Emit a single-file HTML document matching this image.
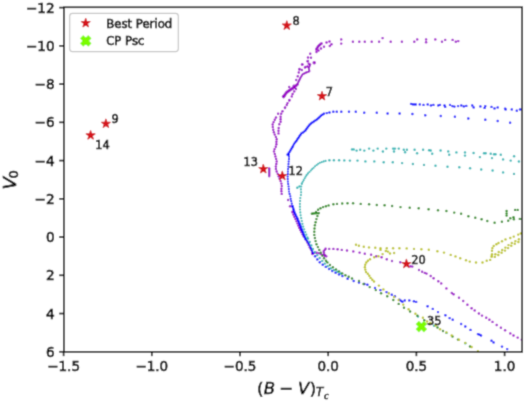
<!DOCTYPE html>
<html><head><meta charset="utf-8"><style>
html,body{margin:0;padding:0;background:#fff;width:525px;height:401px;overflow:hidden}
svg{display:block}
</style></head><body>
<svg width="525" height="401" viewBox="0 0 525 401" font-family="DejaVu Sans, 'Liberation Sans', sans-serif"><defs><filter id="bl" x="0" y="0" width="525" height="401" filterUnits="userSpaceOnUse"><feConvolveMatrix order="3" kernelMatrix="0.062 0.249 0.062 0.249 1 0.249 0.062 0.249 0.062" divisor="2.244" edgeMode="duplicate"/></filter></defs><style>text{stroke:#000}.t{stroke-width:0.65px}.a{stroke-width:0.55px}.l{stroke-width:0.6px}.x{stroke-width:0.6px}</style><g filter="url(#bl)"><rect width="525" height="401" fill="#fff"/><path d="M310.0,65.0 L308.8,68.1 L309.4,71.2 L306.2,72.5 L302.5,74.4 L300.6,77.5 L298.8,81.2 L297.3,84.5" fill="none" stroke="#9c00c8" stroke-width="2.0" stroke-linecap="round" stroke-linejoin="round"/>
<path d="M297.3,84.5 L294.0,87.5 L290.0,90.0 L286.5,92.5 L284.0,96.2" fill="none" stroke="#9c00c8" stroke-width="3.0" stroke-linecap="round" stroke-linejoin="round"/>
<path d="M269.2,168.3 L269.2,176.3" fill="none" stroke="#9c00c8" stroke-width="2.3" stroke-linecap="round" stroke-linejoin="round"/>
<path d="M311.8,213.7 L314.0,213.4 L318.6,213.1" fill="none" stroke="#2a8a1a" stroke-width="2.4" stroke-linecap="round" stroke-linejoin="round"/>
<g fill="#9c00c8"><circle cx="341.2" cy="39.4" r="1.2"/><circle cx="341.2" cy="43.6" r="1.2"/><circle cx="352.9" cy="41.8" r="1.2"/><circle cx="359.3" cy="41.8" r="1.2"/><circle cx="364.8" cy="41.8" r="1.2"/><circle cx="371.7" cy="41.8" r="1.2"/><circle cx="379.1" cy="41.8" r="1.2"/><circle cx="382.6" cy="38.1" r="1.2"/><circle cx="390.7" cy="41.8" r="1.2"/><circle cx="401.9" cy="41.8" r="1.2"/><circle cx="414.3" cy="41.8" r="1.2"/><circle cx="417.2" cy="39.4" r="1.2"/><circle cx="426.1" cy="39.4" r="1.2"/><circle cx="426.1" cy="42.3" r="1.2"/><circle cx="435.3" cy="39.4" r="1.2"/><circle cx="442.0" cy="41.8" r="1.2"/><circle cx="445.2" cy="39.9" r="1.2"/><circle cx="452.6" cy="39.9" r="1.2"/><circle cx="455.8" cy="41.8" r="1.2"/><circle cx="458.3" cy="41.1" r="1.2"/><circle cx="329.5" cy="41.5" r="1.2"/><circle cx="331.5" cy="44.2" r="1.2"/><circle cx="329.8" cy="46.0" r="1.2"/><circle cx="326.5" cy="42.5" r="1.2"/><circle cx="324.0" cy="46.8" r="1.2"/><circle cx="316.5" cy="52.0" r="1.2"/><circle cx="318.5" cy="50.5" r="1.2"/><circle cx="321.0" cy="48.5" r="1.2"/><circle cx="310.2" cy="53.7" r="1.2"/><circle cx="308.0" cy="57.5" r="1.2"/><circle cx="311.0" cy="57.8" r="1.2"/><circle cx="308.0" cy="61.0" r="1.2"/><circle cx="310.0" cy="64.5" r="1.2"/><circle cx="307.5" cy="66.5" r="1.2"/><circle cx="305.0" cy="67.5" r="1.2"/><circle cx="302.0" cy="64.5" r="1.2"/><circle cx="299.5" cy="69.0" r="1.2"/><circle cx="302.5" cy="64.4" r="1.2"/><circle cx="299.4" cy="69.4" r="1.2"/><circle cx="298.8" cy="72.5" r="1.2"/><circle cx="297.8" cy="76.2" r="1.2"/><circle cx="296.2" cy="80.0" r="1.2"/><circle cx="294.0" cy="85.6" r="1.2"/><circle cx="289.2" cy="87.0" r="1.2"/><circle cx="293.6" cy="86.4" r="1.2"/><circle cx="307.5" cy="61.2" r="1.2"/><circle cx="308.8" cy="63.8" r="1.2"/><circle cx="305.6" cy="66.9" r="1.2"/><circle cx="301.9" cy="70.0" r="1.2"/><circle cx="296.0" cy="89.0" r="1.2"/><circle cx="294.2" cy="91.4" r="1.2"/><circle cx="292.6" cy="94.0" r="1.2"/><circle cx="291.8" cy="96.4" r="1.2"/><circle cx="289.4" cy="100.0" r="1.2"/><circle cx="287.5" cy="103.1" r="1.2"/><circle cx="285.0" cy="107.5" r="1.2"/><circle cx="289.3" cy="100.6" r="1.2"/><circle cx="286.8" cy="105.0" r="1.2"/><circle cx="285.0" cy="108.1" r="1.2"/><circle cx="282.5" cy="111.2" r="1.2"/><circle cx="281.2" cy="113.7" r="1.2"/><circle cx="280.6" cy="116.8" r="1.2"/><circle cx="280.6" cy="119.3" r="1.2"/><circle cx="280.6" cy="121.8" r="1.2"/><circle cx="279.3" cy="124.3" r="1.2"/><circle cx="278.7" cy="128.0" r="1.2"/><circle cx="278.5" cy="130.7" r="1.2"/><circle cx="278.5" cy="133.4" r="1.2"/><circle cx="278.1" cy="113.7" r="1.2"/><circle cx="276.0" cy="117.5" r="1.2"/><circle cx="274.8" cy="119.8" r="1.2"/><circle cx="273.6" cy="122.1" r="1.2"/><circle cx="272.7" cy="124.5" r="1.2"/><circle cx="272.8" cy="127.1" r="1.2"/><circle cx="273.2" cy="129.7" r="1.2"/><circle cx="273.9" cy="132.2" r="1.2"/><circle cx="274.8" cy="134.6" r="1.2"/><circle cx="275.9" cy="136.9" r="1.2"/><circle cx="276.7" cy="139.3" r="1.2"/><circle cx="276.4" cy="141.8" r="1.2"/><circle cx="276.4" cy="144.3" r="1.2"/><circle cx="275.8" cy="146.8" r="1.2"/><circle cx="274.6" cy="149.1" r="1.2"/><circle cx="274.0" cy="151.4" r="1.2"/><circle cx="274.8" cy="153.9" r="1.2"/><circle cx="275.4" cy="156.4" r="1.2"/><circle cx="276.1" cy="158.9" r="1.2"/><circle cx="276.7" cy="161.4" r="1.2"/><circle cx="276.3" cy="163.9" r="1.2"/><circle cx="275.9" cy="166.5" r="1.2"/><circle cx="275.9" cy="169.0" r="1.2"/><circle cx="276.7" cy="171.5" r="1.2"/><circle cx="277.8" cy="173.9" r="1.2"/><circle cx="278.7" cy="176.3" r="1.2"/><circle cx="279.6" cy="178.7" r="1.2"/><circle cx="280.6" cy="181.1" r="1.2"/><circle cx="281.4" cy="183.6" r="1.2"/><circle cx="281.8" cy="186.1" r="1.2"/><circle cx="281.4" cy="188.7" r="1.2"/><circle cx="281.4" cy="191.3" r="1.2"/><circle cx="281.7" cy="193.9" r="1.2"/><circle cx="288.1" cy="200.0" r="1.2"/><circle cx="290.0" cy="206.2" r="1.2"/><circle cx="292.5" cy="211.8" r="1.2"/><circle cx="305.0" cy="238.0" r="1.2"/><circle cx="306.3" cy="240.3" r="1.2"/><circle cx="307.5" cy="242.5" r="1.2"/><circle cx="308.7" cy="244.9" r="1.2"/><circle cx="309.8" cy="247.2" r="1.2"/><circle cx="311.0" cy="249.5" r="1.2"/><circle cx="312.0" cy="251.9" r="1.2"/><circle cx="312.5" cy="253.7" r="1.2"/><circle cx="314.5" cy="252.7" r="1.2"/><circle cx="316.6" cy="252.7" r="1.2"/><circle cx="318.7" cy="253.1" r="1.2"/><circle cx="320.7" cy="254.1" r="1.2"/><circle cx="322.7" cy="255.0" r="1.2"/><circle cx="324.7" cy="255.9" r="1.2"/><circle cx="326.2" cy="256.2" r="1.2"/><circle cx="325.1" cy="255.1" r="1.2"/><circle cx="324.1" cy="254.1" r="1.2"/><circle cx="323.9" cy="252.6" r="1.2"/><circle cx="323.7" cy="251.1" r="1.2"/><circle cx="324.7" cy="249.9" r="1.2"/><circle cx="325.6" cy="248.8" r="1.2"/><circle cx="329.2" cy="248.9" r="1.2"/><circle cx="333.4" cy="248.9" r="1.2"/><circle cx="337.6" cy="249.3" r="1.2"/><circle cx="341.8" cy="249.9" r="1.2"/><circle cx="347.0" cy="250.5" r="1.2"/><circle cx="353.3" cy="251.4" r="1.2"/><circle cx="359.6" cy="252.6" r="1.2"/><circle cx="364.8" cy="253.7" r="1.2"/><circle cx="371.1" cy="254.7" r="1.2"/><circle cx="376.3" cy="256.2" r="1.2"/><circle cx="381.6" cy="257.2" r="1.2"/><circle cx="386.8" cy="259.3" r="1.2"/><circle cx="392.0" cy="261.0" r="1.2"/><circle cx="400.3" cy="262.2" r="1.2"/><circle cx="410.5" cy="266.2" r="1.2"/><circle cx="412.3" cy="266.6" r="1.2"/><circle cx="419.0" cy="270.0" r="1.2"/><circle cx="422.1" cy="271.8" r="1.2"/><circle cx="424.8" cy="272.9" r="1.2"/><circle cx="426.5" cy="273.6" r="1.2"/><circle cx="430.7" cy="276.0" r="1.2"/><circle cx="433.6" cy="278.3" r="1.2"/><circle cx="438.3" cy="281.2" r="1.2"/><circle cx="441.2" cy="283.4" r="1.2"/><circle cx="446.4" cy="288.4" r="1.2"/><circle cx="451.8" cy="293.0" r="1.2"/><circle cx="453.6" cy="294.2" r="1.2"/><circle cx="459.0" cy="297.8" r="1.2"/><circle cx="463.2" cy="301.0" r="1.2"/><circle cx="467.4" cy="304.7" r="1.2"/><circle cx="471.6" cy="308.3" r="1.2"/><circle cx="474.7" cy="310.4" r="1.2"/><circle cx="478.9" cy="313.5" r="1.2"/><circle cx="482.0" cy="315.6" r="1.2"/><circle cx="486.2" cy="317.7" r="1.2"/><circle cx="489.4" cy="319.8" r="1.2"/><circle cx="492.5" cy="321.9" r="1.2"/><circle cx="496.7" cy="325.0" r="1.2"/><circle cx="500.9" cy="327.8" r="1.2"/><circle cx="505.1" cy="330.3" r="1.2"/><circle cx="510.3" cy="333.4" r="1.2"/><circle cx="513.5" cy="335.5" r="1.2"/><circle cx="517.7" cy="337.6" r="1.2"/><circle cx="521.8" cy="339.7" r="1.2"/></g>
<g fill="#9c00c8"><circle cx="321.5" cy="43.5" r="1.3"/><circle cx="320.7" cy="44.1" r="1.3"/><circle cx="319.9" cy="44.7" r="1.3"/><circle cx="319.2" cy="45.4" r="1.3"/><circle cx="318.5" cy="46.1" r="1.3"/><circle cx="317.9" cy="46.9" r="1.3"/><circle cx="317.3" cy="47.8" r="1.3"/><circle cx="316.8" cy="48.6" r="1.3"/><circle cx="316.3" cy="49.5" r="1.3"/></g>
<g fill="#9c00c8"><circle cx="314.2" cy="62.8" r="1.7"/></g>
<g fill="#9c00c8"><circle cx="283.6" cy="96.6" r="1.8"/></g>
<g fill="#9c00c8"><circle cx="292.4" cy="212.5" r="1.1"/><circle cx="293.3" cy="214.7" r="1.1"/><circle cx="294.3" cy="216.9" r="1.1"/><circle cx="295.3" cy="219.1" r="1.1"/><circle cx="296.3" cy="221.3" r="1.1"/><circle cx="297.3" cy="223.5" r="1.1"/><circle cx="298.2" cy="225.7" r="1.1"/><circle cx="299.1" cy="227.9" r="1.1"/><circle cx="300.1" cy="230.1" r="1.1"/><circle cx="301.2" cy="232.2" r="1.1"/><circle cx="302.3" cy="234.3" r="1.1"/><circle cx="303.5" cy="236.4" r="1.1"/></g>
<g fill="#9c00c8"><circle cx="312.6" cy="253.6" r="1.6"/></g>
<g fill="#0000ff"><circle cx="411.0" cy="103.9" r="1.2"/><circle cx="412.6" cy="104.2" r="1.2"/><circle cx="414.2" cy="104.4" r="1.2"/><circle cx="415.8" cy="104.4" r="1.2"/><circle cx="419.8" cy="104.4" r="1.2"/><circle cx="423.5" cy="104.9" r="1.2"/><circle cx="427.7" cy="104.4" r="1.2"/><circle cx="430.9" cy="105.4" r="1.2"/><circle cx="433.4" cy="104.9" r="1.2"/><circle cx="438.3" cy="105.4" r="1.2"/><circle cx="440.0" cy="104.9" r="1.2"/><circle cx="444.5" cy="105.4" r="1.2"/><circle cx="445.2" cy="106.9" r="1.2"/><circle cx="450.0" cy="104.9" r="1.2"/><circle cx="452.4" cy="106.1" r="1.2"/><circle cx="454.4" cy="106.6" r="1.2"/><circle cx="458.1" cy="106.1" r="1.2"/><circle cx="461.3" cy="105.4" r="1.2"/><circle cx="463.8" cy="106.4" r="1.2"/><circle cx="466.3" cy="105.9" r="1.2"/><circle cx="472.2" cy="105.4" r="1.2"/><circle cx="473.7" cy="107.4" r="1.2"/><circle cx="480.4" cy="106.4" r="1.2"/><circle cx="484.6" cy="107.9" r="1.2"/><circle cx="485.3" cy="106.1" r="1.2"/><circle cx="491.5" cy="106.9" r="1.2"/><circle cx="494.5" cy="108.4" r="1.2"/><circle cx="497.7" cy="107.4" r="1.2"/><circle cx="505.1" cy="108.6" r="1.2"/><circle cx="505.6" cy="109.4" r="1.2"/><circle cx="511.8" cy="109.4" r="1.2"/><circle cx="516.8" cy="110.8" r="1.2"/><circle cx="520.0" cy="109.4" r="1.2"/><circle cx="341.3" cy="111.8" r="1.2"/><circle cx="349.0" cy="111.8" r="1.2"/><circle cx="355.8" cy="111.8" r="1.2"/><circle cx="364.2" cy="112.7" r="1.2"/><circle cx="376.8" cy="112.7" r="1.2"/><circle cx="387.6" cy="113.5" r="1.2"/><circle cx="399.6" cy="113.5" r="1.2"/><circle cx="412.4" cy="114.0" r="1.2"/><circle cx="425.2" cy="115.3" r="1.2"/><circle cx="440.8" cy="116.0" r="1.2"/><circle cx="454.9" cy="116.8" r="1.2"/><circle cx="468.3" cy="118.5" r="1.2"/><circle cx="485.3" cy="119.8" r="1.2"/><circle cx="497.7" cy="121.0" r="1.2"/><circle cx="510.1" cy="122.7" r="1.2"/><circle cx="336.8" cy="111.8" r="1.2"/><circle cx="333.3" cy="111.8" r="1.2"/><circle cx="329.5" cy="112.5" r="1.2"/><circle cx="326.7" cy="113.1" r="1.2"/><circle cx="323.9" cy="113.8" r="1.2"/><circle cx="322.4" cy="114.8" r="1.2"/><circle cx="320.9" cy="115.8" r="1.2"/><circle cx="319.6" cy="117.0" r="1.2"/><circle cx="318.3" cy="118.3" r="1.2"/><circle cx="316.9" cy="119.4" r="1.2"/><circle cx="315.4" cy="120.4" r="1.2"/><circle cx="313.9" cy="121.4" r="1.2"/><circle cx="312.4" cy="122.4" r="1.2"/><circle cx="311.0" cy="123.5" r="1.2"/><circle cx="309.6" cy="124.7" r="1.2"/><circle cx="308.6" cy="126.1" r="1.2"/><circle cx="307.5" cy="127.5" r="1.2"/><circle cx="306.4" cy="129.0" r="1.2"/><circle cx="305.4" cy="130.5" r="1.2"/><circle cx="304.1" cy="131.6" r="1.2"/><circle cx="302.6" cy="132.7" r="1.2"/><circle cx="301.1" cy="133.7" r="1.2"/><circle cx="300.1" cy="135.2" r="1.2"/><circle cx="299.1" cy="136.7" r="1.2"/><circle cx="298.1" cy="138.2" r="1.2"/><circle cx="297.1" cy="139.7" r="1.2"/><circle cx="296.1" cy="141.2" r="1.2"/><circle cx="295.0" cy="142.6" r="1.2"/><circle cx="294.0" cy="144.1" r="1.2"/><circle cx="293.1" cy="145.7" r="1.2"/><circle cx="292.3" cy="147.3" r="1.2"/><circle cx="291.4" cy="148.8" r="1.2"/><circle cx="290.4" cy="150.4" r="1.2"/><circle cx="289.5" cy="151.9" r="1.2"/><circle cx="288.5" cy="153.4" r="1.2"/><circle cx="292.5" cy="206.2" r="1.2"/><circle cx="292.9" cy="207.4" r="1.2"/><circle cx="293.3" cy="208.7" r="1.2"/><circle cx="293.7" cy="209.9" r="1.2"/><circle cx="294.1" cy="211.1" r="1.2"/><circle cx="294.5" cy="212.4" r="1.2"/><circle cx="295.0" cy="213.6" r="1.2"/><circle cx="295.5" cy="214.8" r="1.2"/><circle cx="296.1" cy="215.9" r="1.2"/><circle cx="296.7" cy="217.1" r="1.2"/><circle cx="297.3" cy="218.3" r="1.2"/><circle cx="297.8" cy="219.4" r="1.2"/><circle cx="298.3" cy="220.7" r="1.2"/><circle cx="298.8" cy="221.9" r="1.2"/><circle cx="299.3" cy="223.1" r="1.2"/><circle cx="299.7" cy="224.3" r="1.2"/><circle cx="300.2" cy="225.5" r="1.2"/><circle cx="300.6" cy="226.7" r="1.2"/><circle cx="301.1" cy="227.9" r="1.2"/><circle cx="301.5" cy="229.2" r="1.2"/><circle cx="302.0" cy="230.4" r="1.2"/><circle cx="302.5" cy="231.6" r="1.2"/><circle cx="303.0" cy="232.8" r="1.2"/><circle cx="303.4" cy="234.0" r="1.2"/><circle cx="303.9" cy="235.2" r="1.2"/><circle cx="304.4" cy="236.4" r="1.2"/><circle cx="304.9" cy="237.6" r="1.2"/><circle cx="305.4" cy="238.8" r="1.2"/><circle cx="305.6" cy="239.3" r="1.2"/><circle cx="307.2" cy="241.3" r="1.2"/><circle cx="308.6" cy="243.5" r="1.2"/><circle cx="309.8" cy="245.8" r="1.2"/><circle cx="310.9" cy="248.2" r="1.2"/><circle cx="312.0" cy="250.6" r="1.2"/><circle cx="313.0" cy="252.9" r="1.2"/><circle cx="313.1" cy="253.1" r="1.2"/><circle cx="315.1" cy="256.3" r="1.2"/><circle cx="317.3" cy="259.4" r="1.2"/><circle cx="319.8" cy="262.3" r="1.2"/><circle cx="322.7" cy="264.7" r="1.2"/><circle cx="325.8" cy="266.9" r="1.2"/><circle cx="329.0" cy="269.0" r="1.2"/><circle cx="332.2" cy="271.0" r="1.2"/><circle cx="335.6" cy="272.7" r="1.2"/><circle cx="339.0" cy="274.4" r="1.2"/><circle cx="342.4" cy="276.1" r="1.2"/><circle cx="347.6" cy="278.7" r="1.2"/><circle cx="353.7" cy="281.0" r="1.2"/><circle cx="359.0" cy="282.5" r="1.2"/><circle cx="364.4" cy="284.0" r="1.2"/><circle cx="367.4" cy="284.8" r="1.2"/><circle cx="375.0" cy="287.9" r="1.2"/><circle cx="380.4" cy="290.1" r="1.2"/><circle cx="386.5" cy="292.1" r="1.2"/><circle cx="391.8" cy="294.7" r="1.2"/><circle cx="394.9" cy="296.2" r="1.2"/><circle cx="399.4" cy="299.7" r="1.2"/><circle cx="400.8" cy="300.8" r="1.2"/><circle cx="402.4" cy="301.8" r="1.2"/><circle cx="404.8" cy="300.4" r="1.2"/><circle cx="409.3" cy="300.4" r="1.2"/><circle cx="413.9" cy="301.3" r="1.2"/><circle cx="416.2" cy="301.9" r="1.2"/><circle cx="427.6" cy="306.2" r="1.2"/><circle cx="432.8" cy="308.9" r="1.2"/><circle cx="438.0" cy="312.1" r="1.2"/><circle cx="445.4" cy="315.2" r="1.2"/><circle cx="449.6" cy="318.1" r="1.2"/><circle cx="452.7" cy="319.8" r="1.2"/><circle cx="461.1" cy="324.0" r="1.2"/><circle cx="465.3" cy="326.5" r="1.2"/><circle cx="470.5" cy="329.9" r="1.2"/><circle cx="477.9" cy="334.1" r="1.2"/><circle cx="479.5" cy="334.8" r="1.2"/><circle cx="481.0" cy="335.5" r="1.2"/><circle cx="491.5" cy="340.8" r="1.2"/><circle cx="493.6" cy="342.4" r="1.2"/><circle cx="502.0" cy="346.6" r="1.2"/><circle cx="507.2" cy="349.1" r="1.2"/></g>
<g fill="#0000ff"><circle cx="288.1" cy="154.6" r="1.7"/></g>
<g fill="#0000ff"><circle cx="288.1" cy="154.4" r="1.1"/><circle cx="289.0" cy="156.7" r="1.1"/><circle cx="289.0" cy="159.2" r="1.1"/><circle cx="288.7" cy="161.6" r="1.1"/><circle cx="288.5" cy="164.1" r="1.1"/><circle cx="288.3" cy="166.6" r="1.1"/><circle cx="288.1" cy="169.1" r="1.1"/><circle cx="287.9" cy="171.6" r="1.1"/><circle cx="287.8" cy="174.1" r="1.1"/><circle cx="287.7" cy="176.6" r="1.1"/><circle cx="287.7" cy="179.1" r="1.1"/><circle cx="287.9" cy="181.6" r="1.1"/><circle cx="288.2" cy="184.1" r="1.1"/><circle cx="288.6" cy="186.5" r="1.1"/><circle cx="288.8" cy="189.0" r="1.1"/><circle cx="289.0" cy="191.5" r="1.1"/><circle cx="289.6" cy="193.9" r="1.1"/><circle cx="290.3" cy="196.3" r="1.1"/><circle cx="290.7" cy="198.8" r="1.1"/><circle cx="291.2" cy="201.2" r="1.1"/><circle cx="291.8" cy="203.7" r="1.1"/><circle cx="292.5" cy="206.1" r="1.1"/></g>
<g fill="#2cb5b5"><circle cx="325.6" cy="160.9" r="1.05"/><circle cx="323.7" cy="161.4" r="1.05"/><circle cx="321.8" cy="162.1" r="1.05"/><circle cx="319.9" cy="162.8" r="1.05"/><circle cx="318.2" cy="163.8" r="1.05"/><circle cx="316.7" cy="165.0" r="1.05"/><circle cx="315.1" cy="166.3" r="1.05"/><circle cx="313.6" cy="167.7" r="1.05"/><circle cx="312.2" cy="169.1" r="1.05"/><circle cx="310.8" cy="170.5" r="1.05"/><circle cx="309.4" cy="172.0" r="1.05"/><circle cx="308.0" cy="173.4" r="1.05"/><circle cx="306.7" cy="174.9" r="1.05"/><circle cx="305.7" cy="176.6" r="1.05"/><circle cx="304.7" cy="178.3" r="1.05"/><circle cx="303.7" cy="180.1" r="1.05"/><circle cx="302.8" cy="181.8" r="1.05"/><circle cx="301.9" cy="183.6" r="1.05"/></g>
<g fill="#2cb5b5"><circle cx="301.8" cy="183.7" r="1.1"/><circle cx="301.2" cy="186.5" r="1.1"/><circle cx="300.9" cy="189.4" r="1.1"/><circle cx="301.1" cy="192.3" r="1.1"/><circle cx="300.9" cy="195.1" r="1.1"/><circle cx="300.3" cy="198.0" r="1.1"/><circle cx="300.1" cy="200.9" r="1.1"/><circle cx="299.9" cy="203.8" r="1.1"/><circle cx="299.9" cy="206.7" r="1.1"/><circle cx="300.0" cy="209.5" r="1.1"/><circle cx="300.3" cy="212.4" r="1.1"/><circle cx="300.6" cy="215.3" r="1.1"/><circle cx="301.2" cy="218.2" r="1.1"/><circle cx="301.8" cy="221.0" r="1.1"/><circle cx="302.4" cy="223.8" r="1.1"/><circle cx="303.2" cy="226.6" r="1.1"/><circle cx="304.2" cy="229.3" r="1.1"/><circle cx="305.3" cy="232.0" r="1.1"/><circle cx="306.3" cy="234.7" r="1.1"/><circle cx="307.4" cy="237.4" r="1.1"/></g>
<g fill="#2cb5b5"><circle cx="297.3" cy="187.8" r="1.2"/><circle cx="299.5" cy="186.4" r="1.2"/><circle cx="308.0" cy="238.6" r="1.2"/><circle cx="309.7" cy="242.0" r="1.2"/><circle cx="311.3" cy="245.4" r="1.2"/><circle cx="312.9" cy="248.9" r="1.2"/><circle cx="314.9" cy="252.1" r="1.2"/><circle cx="317.3" cy="255.1" r="1.2"/><circle cx="319.7" cy="258.0" r="1.2"/><circle cx="322.2" cy="260.9" r="1.2"/><circle cx="324.8" cy="263.6" r="1.2"/><circle cx="327.7" cy="266.1" r="1.2"/><circle cx="330.7" cy="268.4" r="1.2"/><circle cx="334.1" cy="270.1" r="1.2"/><circle cx="337.5" cy="271.8" r="1.2"/><circle cx="340.9" cy="273.5" r="1.2"/><circle cx="329.4" cy="160.3" r="1.2"/><circle cx="333.9" cy="160.3" r="1.2"/><circle cx="339.1" cy="160.3" r="1.2"/><circle cx="344.3" cy="160.4" r="1.2"/><circle cx="349.9" cy="160.6" r="1.2"/><circle cx="357.5" cy="160.6" r="1.2"/><circle cx="365.4" cy="161.4" r="1.2"/><circle cx="374.3" cy="161.4" r="1.2"/><circle cx="383.7" cy="162.3" r="1.2"/><circle cx="392.8" cy="162.3" r="1.2"/><circle cx="402.1" cy="163.1" r="1.2"/><circle cx="412.9" cy="164.0" r="1.2"/><circle cx="424.0" cy="164.9" r="1.2"/><circle cx="435.5" cy="165.7" r="1.2"/><circle cx="447.5" cy="166.7" r="1.2"/><circle cx="459.3" cy="167.2" r="1.2"/><circle cx="470.1" cy="168.2" r="1.2"/><circle cx="481.2" cy="169.5" r="1.2"/><circle cx="492.6" cy="170.5" r="1.2"/><circle cx="503.1" cy="172.4" r="1.2"/><circle cx="514.0" cy="173.9" r="1.2"/><circle cx="352.0" cy="149.4" r="1.2"/><circle cx="353.7" cy="149.4" r="1.2"/><circle cx="356.6" cy="150.6" r="1.2"/><circle cx="360.2" cy="149.8" r="1.2"/><circle cx="364.3" cy="150.6" r="1.2"/><circle cx="369.1" cy="148.6" r="1.2"/><circle cx="373.4" cy="150.6" r="1.2"/><circle cx="377.7" cy="148.6" r="1.2"/><circle cx="382.9" cy="151.5" r="1.2"/><circle cx="386.3" cy="148.6" r="1.2"/><circle cx="393.1" cy="148.6" r="1.2"/><circle cx="394.9" cy="148.6" r="1.2"/><circle cx="394.0" cy="151.5" r="1.2"/><circle cx="398.8" cy="148.6" r="1.2"/><circle cx="403.8" cy="149.8" r="1.2"/><circle cx="405.1" cy="152.3" r="1.2"/><circle cx="406.9" cy="149.8" r="1.2"/><circle cx="414.6" cy="149.8" r="1.2"/><circle cx="417.1" cy="153.2" r="1.2"/><circle cx="423.1" cy="149.8" r="1.2"/><circle cx="429.1" cy="150.3" r="1.2"/><circle cx="430.7" cy="150.5" r="1.2"/><circle cx="432.2" cy="153.7" r="1.2"/><circle cx="440.6" cy="150.5" r="1.2"/><circle cx="448.2" cy="151.4" r="1.2"/><circle cx="449.2" cy="154.7" r="1.2"/><circle cx="456.4" cy="152.4" r="1.2"/><circle cx="465.0" cy="152.4" r="1.2"/><circle cx="465.0" cy="155.6" r="1.2"/><circle cx="473.6" cy="153.0" r="1.2"/><circle cx="479.9" cy="157.1" r="1.2"/><circle cx="484.0" cy="153.3" r="1.2"/><circle cx="485.6" cy="153.3" r="1.2"/><circle cx="490.7" cy="153.7" r="1.2"/><circle cx="492.0" cy="158.1" r="1.2"/><circle cx="494.0" cy="154.3" r="1.2"/><circle cx="495.5" cy="154.3" r="1.2"/><circle cx="500.8" cy="154.7" r="1.2"/><circle cx="503.1" cy="159.4" r="1.2"/><circle cx="510.7" cy="160.6" r="1.2"/><circle cx="514.1" cy="156.2" r="1.2"/><circle cx="518.9" cy="161.5" r="1.2"/><circle cx="418.0" cy="316.6" r="1.2"/><circle cx="434.0" cy="325.7" r="1.2"/><circle cx="446.4" cy="332.9" r="1.2"/><circle cx="465.3" cy="343.3" r="1.2"/></g>
<g fill="#2a8a1a"><circle cx="316.0" cy="211.9" r="1.2"/><circle cx="318.1" cy="209.8" r="1.2"/><circle cx="320.5" cy="208.2" r="1.2"/><circle cx="323.1" cy="207.1" r="1.2"/><circle cx="325.9" cy="206.2" r="1.2"/><circle cx="328.6" cy="205.4" r="1.2"/><circle cx="333.4" cy="204.2" r="1.2"/><circle cx="337.0" cy="203.9" r="1.2"/><circle cx="342.2" cy="203.5" r="1.2"/><circle cx="347.5" cy="203.3" r="1.2"/><circle cx="353.1" cy="203.3" r="1.2"/><circle cx="360.7" cy="203.9" r="1.2"/><circle cx="369.1" cy="204.2" r="1.2"/><circle cx="376.8" cy="205.0" r="1.2"/><circle cx="384.6" cy="205.2" r="1.2"/><circle cx="392.1" cy="206.0" r="1.2"/><circle cx="400.5" cy="207.1" r="1.2"/><circle cx="409.7" cy="207.7" r="1.2"/><circle cx="418.7" cy="208.3" r="1.2"/><circle cx="428.6" cy="209.3" r="1.2"/><circle cx="438.0" cy="210.3" r="1.2"/><circle cx="446.4" cy="211.0" r="1.2"/><circle cx="454.2" cy="212.6" r="1.2"/><circle cx="461.1" cy="213.7" r="1.2"/><circle cx="468.4" cy="216.2" r="1.2"/><circle cx="475.3" cy="217.7" r="1.2"/><circle cx="481.6" cy="219.3" r="1.2"/><circle cx="487.3" cy="221.0" r="1.2"/><circle cx="494.6" cy="222.7" r="1.2"/><circle cx="501.9" cy="221.8" r="1.2"/><circle cx="508.2" cy="220.8" r="1.2"/><circle cx="510.3" cy="218.3" r="1.2"/><circle cx="513.9" cy="219.3" r="1.2"/><circle cx="519.8" cy="218.9" r="1.2"/><circle cx="513.5" cy="217.2" r="1.2"/><circle cx="506.6" cy="211.0" r="1.2"/><circle cx="506.6" cy="213.5" r="1.2"/><circle cx="506.6" cy="215.6" r="1.2"/><circle cx="515.1" cy="209.9" r="1.2"/><circle cx="517.7" cy="209.9" r="1.2"/><circle cx="318.6" cy="213.1" r="1.2"/><circle cx="317.4" cy="216.1" r="1.2"/><circle cx="316.4" cy="219.1" r="1.2"/><circle cx="315.6" cy="222.2" r="1.2"/><circle cx="314.9" cy="225.3" r="1.2"/><circle cx="314.5" cy="228.5" r="1.2"/><circle cx="314.3" cy="231.7" r="1.2"/><circle cx="314.3" cy="234.9" r="1.2"/><circle cx="314.9" cy="238.0" r="1.2"/><circle cx="315.6" cy="241.1" r="1.2"/><circle cx="316.5" cy="244.2" r="1.2"/><circle cx="317.9" cy="247.1" r="1.2"/><circle cx="319.3" cy="249.9" r="1.2"/><circle cx="320.7" cy="252.8" r="1.2"/><circle cx="322.3" cy="255.6" r="1.2"/><circle cx="324.0" cy="258.3" r="1.2"/><circle cx="326.0" cy="260.8" r="1.2"/><circle cx="327.4" cy="262.4" r="1.2"/><circle cx="330.0" cy="265.0" r="1.2"/><circle cx="332.9" cy="267.3" r="1.2"/><circle cx="336.0" cy="269.4" r="1.2"/><circle cx="339.1" cy="271.4" r="1.2"/><circle cx="342.2" cy="273.4" r="1.2"/><circle cx="345.4" cy="275.2" r="1.2"/><circle cx="348.7" cy="276.8" r="1.2"/><circle cx="352.0" cy="278.5" r="1.2"/><circle cx="359.0" cy="281.0" r="1.2"/><circle cx="363.6" cy="284.0" r="1.2"/><circle cx="369.7" cy="287.1" r="1.2"/><circle cx="375.8" cy="290.1" r="1.2"/><circle cx="381.1" cy="293.2" r="1.2"/><circle cx="387.2" cy="296.2" r="1.2"/><circle cx="393.3" cy="300.0" r="1.2"/><circle cx="398.7" cy="303.9" r="1.2"/><circle cx="404.0" cy="307.7" r="1.2"/><circle cx="410.1" cy="311.5" r="1.2"/><circle cx="417.4" cy="315.7" r="1.2"/><circle cx="424.3" cy="320.3" r="1.2"/><circle cx="430.0" cy="323.8" r="1.2"/><circle cx="437.5" cy="327.5" r="1.2"/><circle cx="443.0" cy="331.0" r="1.2"/><circle cx="452.5" cy="336.5" r="1.2"/><circle cx="458.0" cy="339.6" r="1.2"/><circle cx="470.0" cy="346.5" r="1.2"/></g>
<g fill="#bcc31c"><circle cx="356.0" cy="244.7" r="1.2"/><circle cx="358.9" cy="245.7" r="1.2"/><circle cx="363.8" cy="246.8" r="1.2"/><circle cx="369.0" cy="247.4" r="1.2"/><circle cx="375.3" cy="247.8" r="1.2"/><circle cx="380.5" cy="248.2" r="1.2"/><circle cx="380.5" cy="249.9" r="1.2"/><circle cx="386.8" cy="248.2" r="1.2"/><circle cx="385.8" cy="251.0" r="1.2"/><circle cx="393.1" cy="248.2" r="1.2"/><circle cx="399.4" cy="248.2" r="1.2"/><circle cx="406.7" cy="248.4" r="1.2"/><circle cx="414.0" cy="248.9" r="1.2"/><circle cx="421.4" cy="249.3" r="1.2"/><circle cx="428.8" cy="249.8" r="1.2"/><circle cx="437.4" cy="251.3" r="1.2"/><circle cx="444.0" cy="252.6" r="1.2"/><circle cx="450.7" cy="254.9" r="1.2"/><circle cx="455.5" cy="256.4" r="1.2"/><circle cx="460.2" cy="258.3" r="1.2"/><circle cx="466.0" cy="260.2" r="1.2"/><circle cx="469.8" cy="261.6" r="1.2"/><circle cx="476.0" cy="262.5" r="1.2"/><circle cx="482.5" cy="262.5" r="1.2"/><circle cx="486.7" cy="260.8" r="1.2"/><circle cx="490.2" cy="259.9" r="1.2"/><circle cx="491.6" cy="256.8" r="1.2"/><circle cx="492.0" cy="254.2" r="1.2"/><circle cx="492.0" cy="250.7" r="1.2"/><circle cx="492.4" cy="248.1" r="1.2"/><circle cx="493.7" cy="245.9" r="1.2"/><circle cx="496.4" cy="244.2" r="1.2"/><circle cx="498.5" cy="243.0" r="1.2"/><circle cx="502.0" cy="241.3" r="1.2"/><circle cx="505.5" cy="239.4" r="1.2"/><circle cx="510.3" cy="238.0" r="1.2"/><circle cx="513.8" cy="236.6" r="1.2"/><circle cx="518.2" cy="234.6" r="1.2"/><circle cx="520.8" cy="233.4" r="1.2"/><circle cx="491.8" cy="255.9" r="1.2"/><circle cx="494.8" cy="256.9" r="1.2"/><circle cx="495.4" cy="254.3" r="1.2"/><circle cx="498.3" cy="255.0" r="1.2"/><circle cx="498.7" cy="252.0" r="1.2"/><circle cx="501.6" cy="252.7" r="1.2"/><circle cx="502.2" cy="250.0" r="1.2"/><circle cx="505.0" cy="250.6" r="1.2"/><circle cx="505.4" cy="247.6" r="1.2"/><circle cx="508.1" cy="248.1" r="1.2"/><circle cx="508.5" cy="245.1" r="1.2"/><circle cx="511.3" cy="245.7" r="1.2"/><circle cx="511.8" cy="242.9" r="1.2"/><circle cx="514.8" cy="243.8" r="1.2"/><circle cx="515.4" cy="241.1" r="1.2"/><circle cx="518.4" cy="242.0" r="1.2"/><circle cx="518.9" cy="239.2" r="1.2"/><circle cx="394.1" cy="253.0" r="1.2"/><circle cx="390.0" cy="253.5" r="1.2"/><circle cx="387.9" cy="251.6" r="1.2"/><circle cx="382.6" cy="254.1" r="1.2"/><circle cx="378.4" cy="256.2" r="1.2"/><circle cx="374.2" cy="257.2" r="1.2"/><circle cx="370.0" cy="259.3" r="1.2"/><circle cx="367.9" cy="260.7" r="1.2"/><circle cx="366.3" cy="262.5" r="1.2"/><circle cx="365.2" cy="264.7" r="1.2"/><circle cx="364.9" cy="267.2" r="1.2"/><circle cx="365.3" cy="269.6" r="1.2"/><circle cx="366.0" cy="272.0" r="1.2"/><circle cx="367.8" cy="273.7" r="1.2"/><circle cx="369.3" cy="275.8" r="1.2"/><circle cx="370.6" cy="277.9" r="1.2"/><circle cx="372.3" cy="279.8" r="1.2"/><circle cx="374.0" cy="281.5" r="1.2"/><circle cx="378.9" cy="285.6" r="1.2"/><circle cx="383.4" cy="289.4" r="1.2"/><circle cx="388.8" cy="293.2" r="1.2"/><circle cx="394.1" cy="297.0" r="1.2"/><circle cx="398.7" cy="300.0" r="1.2"/><circle cx="403.2" cy="304.6" r="1.2"/><circle cx="408.6" cy="309.2" r="1.2"/><circle cx="415.4" cy="313.8" r="1.2"/><circle cx="422.9" cy="317.7" r="1.2"/><circle cx="427.1" cy="321.4" r="1.2"/><circle cx="430.3" cy="322.9" r="1.2"/><circle cx="435.5" cy="325.5" r="1.2"/><circle cx="440.1" cy="329.2" r="1.2"/><circle cx="446.4" cy="332.4" r="1.2"/><circle cx="451.7" cy="335.5" r="1.2"/><circle cx="459.0" cy="339.7" r="1.2"/><circle cx="465.3" cy="342.9" r="1.2"/><circle cx="471.6" cy="347.0" r="1.2"/><circle cx="477.9" cy="351.2" r="1.2"/></g>
<polygon points="105.90,119.20 106.91,122.31 110.18,122.31 107.53,124.23 108.55,127.34 105.90,125.42 103.25,127.34 104.27,124.23 101.62,122.31 104.89,122.31" fill="#d4141c" stroke="#d4141c" stroke-width="1.2" stroke-linejoin="round"/>
<polygon points="90.60,130.80 91.61,133.91 94.88,133.91 92.23,135.83 93.25,138.94 90.60,137.02 87.95,138.94 88.97,135.83 86.32,133.91 89.59,133.91" fill="#d4141c" stroke="#d4141c" stroke-width="1.2" stroke-linejoin="round"/>
<polygon points="286.80,21.00 287.81,24.11 291.08,24.11 288.43,26.03 289.45,29.14 286.80,27.22 284.15,29.14 285.17,26.03 282.52,24.11 285.79,24.11" fill="#d4141c" stroke="#d4141c" stroke-width="1.2" stroke-linejoin="round"/>
<polygon points="322.00,91.60 323.01,94.71 326.28,94.71 323.63,96.63 324.65,99.74 322.00,97.82 319.35,99.74 320.37,96.63 317.72,94.71 320.99,94.71" fill="#d4141c" stroke="#d4141c" stroke-width="1.2" stroke-linejoin="round"/>
<polygon points="263.30,164.50 264.31,167.61 267.58,167.61 264.93,169.53 265.95,172.64 263.30,170.72 260.65,172.64 261.67,169.53 259.02,167.61 262.29,167.61" fill="#d4141c" stroke="#d4141c" stroke-width="1.2" stroke-linejoin="round"/>
<polygon points="282.30,171.40 283.31,174.51 286.58,174.51 283.93,176.43 284.95,179.54 282.30,177.62 279.65,179.54 280.67,176.43 278.02,174.51 281.29,174.51" fill="#d4141c" stroke="#d4141c" stroke-width="1.2" stroke-linejoin="round"/>
<polygon points="406.40,259.40 407.41,262.51 410.68,262.51 408.03,264.43 409.05,267.54 406.40,265.62 403.75,267.54 404.77,264.43 402.12,262.51 405.39,262.51" fill="#d4141c" stroke="#d4141c" stroke-width="1.2" stroke-linejoin="round"/>
<polygon points="423.90,326.60 426.40,329.10 423.90,331.60 421.40,329.10 418.90,331.60 416.40,329.10 418.90,326.60 416.40,324.10 418.90,321.60 421.40,324.10 423.90,321.60 426.40,324.10" fill="#7cfc00" stroke="#7cfc00" stroke-width="1.2" stroke-linejoin="round"/>
<text class="a" x="111.4" y="122.5" font-size="11.4" fill="#000">9</text>
<text class="a" x="95.3" y="148.7" font-size="11.4" fill="#000">14</text>
<text class="a" x="292.5" y="24.5" font-size="11.4" fill="#000">8</text>
<text class="a" x="325.8" y="96.2" font-size="11.4" fill="#000">7</text>
<text class="a" x="243.4" y="165.9" font-size="11.4" fill="#000">13</text>
<text class="a" x="288.5" y="175.1" font-size="11.4" fill="#000">12</text>
<text class="a" x="411.3" y="263.6" font-size="11.4" fill="#000">20</text>
<text class="a" x="427.0" y="325.0" font-size="11.4" fill="#000">35</text>
<rect x="63.9" y="7.25" width="458.20" height="344.60" fill="none" stroke="#111" stroke-width="1.7"/>
<line x1="59.199999999999996" y1="7.62" x2="63.9" y2="7.62" stroke="#111" stroke-width="1.7"/>
<text class="t" x="54.6" y="12.72" font-size="13.6" text-anchor="end" fill="#000">−12</text>
<line x1="59.199999999999996" y1="45.86" x2="63.9" y2="45.86" stroke="#111" stroke-width="1.7"/>
<text class="t" x="54.6" y="50.96" font-size="13.6" text-anchor="end" fill="#000">−10</text>
<line x1="59.199999999999996" y1="84.10" x2="63.9" y2="84.10" stroke="#111" stroke-width="1.7"/>
<text class="t" x="54.6" y="89.20" font-size="13.6" text-anchor="end" fill="#000">−8</text>
<line x1="59.199999999999996" y1="122.34" x2="63.9" y2="122.34" stroke="#111" stroke-width="1.7"/>
<text class="t" x="54.6" y="127.44" font-size="13.6" text-anchor="end" fill="#000">−6</text>
<line x1="59.199999999999996" y1="160.58" x2="63.9" y2="160.58" stroke="#111" stroke-width="1.7"/>
<text class="t" x="54.6" y="165.68" font-size="13.6" text-anchor="end" fill="#000">−4</text>
<line x1="59.199999999999996" y1="198.82" x2="63.9" y2="198.82" stroke="#111" stroke-width="1.7"/>
<text class="t" x="54.6" y="203.92" font-size="13.6" text-anchor="end" fill="#000">−2</text>
<line x1="59.199999999999996" y1="237.06" x2="63.9" y2="237.06" stroke="#111" stroke-width="1.7"/>
<text class="t" x="54.6" y="242.16" font-size="13.6" text-anchor="end" fill="#000">0</text>
<line x1="59.199999999999996" y1="275.30" x2="63.9" y2="275.30" stroke="#111" stroke-width="1.7"/>
<text class="t" x="54.6" y="280.40" font-size="13.6" text-anchor="end" fill="#000">2</text>
<line x1="59.199999999999996" y1="313.54" x2="63.9" y2="313.54" stroke="#111" stroke-width="1.7"/>
<text class="t" x="54.6" y="318.64" font-size="13.6" text-anchor="end" fill="#000">4</text>
<line x1="59.199999999999996" y1="351.78" x2="63.9" y2="351.78" stroke="#111" stroke-width="1.7"/>
<text class="t" x="54.6" y="356.88" font-size="13.6" text-anchor="end" fill="#000">6</text>
<line x1="63.60" y1="351.85" x2="63.60" y2="356.15000000000003" stroke="#111" stroke-width="1.7"/>
<text class="t" x="63.60" y="370.75" font-size="13.5" text-anchor="middle" fill="#000">−1.5</text>
<line x1="151.80" y1="351.85" x2="151.80" y2="356.15000000000003" stroke="#111" stroke-width="1.7"/>
<text class="t" x="151.80" y="370.75" font-size="13.5" text-anchor="middle" fill="#000">−1.0</text>
<line x1="240.00" y1="351.85" x2="240.00" y2="356.15000000000003" stroke="#111" stroke-width="1.7"/>
<text class="t" x="240.00" y="370.75" font-size="13.5" text-anchor="middle" fill="#000">−0.5</text>
<line x1="328.20" y1="351.85" x2="328.20" y2="356.15000000000003" stroke="#111" stroke-width="1.7"/>
<text class="t" x="328.20" y="370.75" font-size="13.5" text-anchor="middle" fill="#000">0.0</text>
<line x1="416.40" y1="351.85" x2="416.40" y2="356.15000000000003" stroke="#111" stroke-width="1.7"/>
<text class="t" x="416.40" y="370.75" font-size="13.5" text-anchor="middle" fill="#000">0.5</text>
<line x1="504.60" y1="351.85" x2="504.60" y2="356.15000000000003" stroke="#111" stroke-width="1.7"/>
<text class="t" x="504.60" y="370.75" font-size="13.5" text-anchor="middle" fill="#000">1.0</text>
<rect x="69.7" y="13.4" width="108.6" height="38.2" rx="2.8" fill="#fff" fill-opacity="0.8" stroke="#c6c6c6" stroke-width="1.2"/>
<polygon points="85.70,18.50 86.71,21.61 89.98,21.61 87.33,23.53 88.35,26.64 85.70,24.72 83.05,26.64 84.07,23.53 81.42,21.61 84.69,21.61" fill="#d4141c" stroke="#d4141c" stroke-width="1.2" stroke-linejoin="round"/>
<polygon points="88.25,40.90 90.75,43.40 88.25,45.90 85.75,43.40 83.25,45.90 80.75,43.40 83.25,40.90 80.75,38.40 83.25,35.90 85.75,38.40 88.25,35.90 90.75,38.40" fill="#7cfc00" stroke="#7cfc00" stroke-width="1.2" stroke-linejoin="round"/>
<text class="l" x="106.2" y="27.5" font-size="11.7" fill="#000">Best Period</text>
<text class="l" x="106.2" y="44.7" font-size="11.7" fill="#000">CP Psc</text>
<text class="x" transform="translate(15.9,189.5) rotate(-90)" font-size="18.3" fill="#000"><tspan font-style="italic">V</tspan><tspan font-size="13" dx="-1.6" dy="2.4">0</tspan></text>
<text class="x" font-size="16.5" fill="#000"><tspan x="257" y="394">(</tspan><tspan x="263.8" y="394" font-style="italic">B</tspan><tspan x="279.2" y="394">−</tspan><tspan x="298" y="394" font-style="italic">V</tspan><tspan x="309.7" y="394">)</tspan><tspan x="316" y="396.3" font-size="11.8" font-style="italic">T</tspan><tspan x="323.9" y="399" font-size="8.4" font-style="italic">c</tspan></text></g></svg>
</body></html>
